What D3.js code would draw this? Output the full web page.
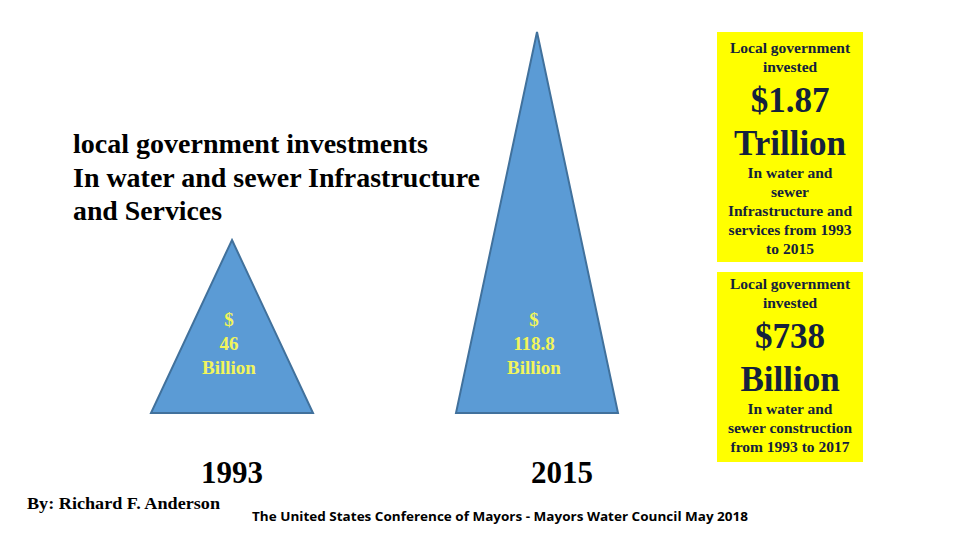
<!DOCTYPE html>
<html>
<head>
<meta charset="utf-8">
<script src="https://cdn.jsdelivr.net/npm/d3@7"></script>
<style>
  html, body { margin: 0; padding: 0; background: #ffffff; }
  svg { display: block; }
</style>
</head>
<body>
<svg id="chart" width="960" height="540"></svg>
<script>
// ---- data ----
const years = ["1993", "2015"];
const values = [46, 118.8];            // $ billion
const valueLabels = [["$", "46", "Billion"], ["$", "118.8", "Billion"]];
const titleLines = ["local government investments", "In water and sewer Infrastructure", "and Services"];
const box1Top = ["Local government", "invested"];
const box1Big = ["$1.87", "Trillion"];
const box1Bottom = ["In water and", "sewer", "Infrastructure and", "services from 1993", "to 2015"];
const box2Top = ["Local government", "invested"];
const box2Big = ["$738", "Billion"];
const box2Bottom = ["In water and", "sewer construction", "from 1993 to 2017"];
const author = "By: Richard F. Anderson";
const source = "The United States Conference of Mayors - Mayors Water Council May 2018";

// ---- layout ----
const svg = d3.select("#chart");
const serif = "'Liberation Serif', 'Times New Roman', serif";
const baseY = 413;
const halfBase = 81;

const x = d3.scalePoint().domain(years).range([232, 537]);
const y = d3.scaleLinear().domain([46, 118.8]).range([240, 32]);

const data = years.map((yr, i) => ({ year: yr, value: values[i], label: valueLabels[i] }));

// triangles
svg.selectAll("path.tri").data(data).enter().append("path")
  .attr("class", "tri")
  .attr("d", d => {
    const cx = x(d.year);
    return d3.line()([[cx, y(d.value)], [cx + halfBase, baseY], [cx - halfBase, baseY]]) + "Z";
  })
  .attr("fill", "#5b9bd5")
  .attr("stroke", "#41719c")
  .attr("stroke-width", 2)
  .attr("stroke-linejoin", "miter");

// value labels inside triangles
data.forEach(d => {
  const g = svg.append("text")
    .attr("text-anchor", "middle")
    .attr("font-family", serif)
    .attr("font-weight", "bold")
    .attr("font-size", 19)
    .attr("fill", "#f2f55a");
  d.label.forEach((t, j) => {
    g.append("tspan").attr("x", x(d.year) - 3).attr("y", 326 + j * 24).text(t);
  });
});

// year labels
const yearX = [232, 562];
svg.selectAll("text.year").data(years).enter().append("text")
  .attr("class", "year")
  .attr("x", (d, i) => yearX[i])
  .attr("y", 483)
  .attr("text-anchor", "middle")
  .attr("font-family", serif)
  .attr("font-weight", "bold")
  .attr("font-size", 31)
  .attr("fill", "#000")
  .text(d => d);

// title
const titleWidths = [355, 407, 149];
svg.selectAll("text.title").data(titleLines).enter().append("text")
  .attr("class", "title")
  .attr("x", 73)
  .attr("y", (d, i) => 153 + i * 33.5)
  .attr("font-family", serif)
  .attr("font-weight", "bold")
  .attr("font-size", 27)
  .attr("textLength", (d, i) => titleWidths[i])
  .attr("lengthAdjust", "spacingAndGlyphs")
  .attr("fill", "#000")
  .text(d => d);

// yellow boxes
function box(x0, y0, w, h, top, big, bottom, topY, bigY, bottomY) {
  svg.append("rect").attr("x", x0).attr("y", y0).attr("width", w).attr("height", h).attr("fill", "#ffff00");
  const cx = x0 + w / 2;
  const navy = "#14213d";
  top.forEach((t, i) => svg.append("text").attr("x", cx).attr("y", topY + i * 19)
    .attr("text-anchor", "middle").attr("font-family", serif).attr("font-weight", "bold")
    .attr("font-size", 15.5).attr("fill", navy).text(t));
  big.forEach((t, i) => svg.append("text").attr("x", cx).attr("y", bigY + i * 43)
    .attr("text-anchor", "middle").attr("font-family", serif).attr("font-weight", "bold")
    .attr("font-size", 35).attr("fill", navy).text(t));
  bottom.forEach((t, i) => svg.append("text").attr("x", cx).attr("y", bottomY + i * 19)
    .attr("text-anchor", "middle").attr("font-family", serif).attr("font-weight", "bold")
    .attr("font-size", 15.5).attr("fill", navy).text(t));
}
box(717, 32, 146, 230, box1Top, box1Big, box1Bottom, 53, 112, 178);
box(717, 272, 146, 190, box2Top, box2Big, box2Bottom, 289, 348, 414);

// author
svg.append("text").attr("x", 27).attr("y", 509)
  .attr("font-family", serif).attr("font-weight", "bold").attr("font-size", 17.5)
  .attr("textLength", 193).attr("lengthAdjust", "spacingAndGlyphs")
  .attr("fill", "#000").text(author);

// source
svg.append("text").attr("x", 252).attr("y", 521)
  .attr("font-family", "'Open Sans', 'Liberation Sans', sans-serif").attr("font-weight", "bold")
  .attr("font-size", 13).attr("fill", "#000")
  .attr("textLength", 496).attr("lengthAdjust", "spacingAndGlyphs")
  .text(source);
</script>
</body>
</html>
